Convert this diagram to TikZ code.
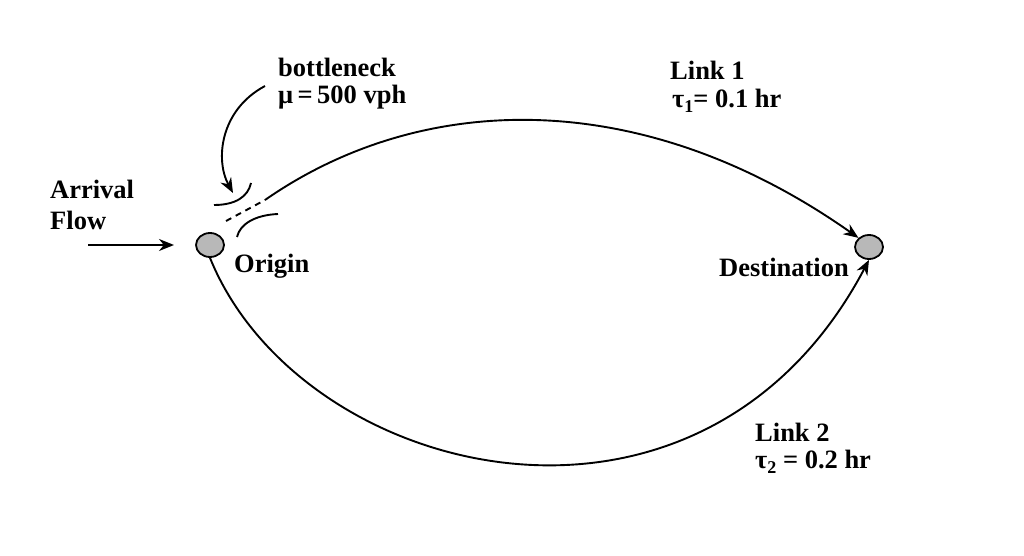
\documentclass[tikz,border=0pt]{standalone}
\usepackage{fontspec}
\setmainfont{Liberation Serif}
\usetikzlibrary{arrows.meta,shapes.geometric}
\newcommand{\mysub}[1]{\raisebox{-5pt}{\fontsize{18}{20}\selectfont #1}}
\begin{document}
\begin{tikzpicture}[x=1pt,y=-1pt,
  lbl/.style={font=\fontsize{26.5}{31}\selectfont\bfseries, inner sep=0pt, align=left},
  nd/.style={ellipse, draw, line width=1.8pt, fill=black!28, minimum width=28pt, minimum height=24pt, inner sep=0pt},
  ln/.style={line width=1.9pt},
  arr/.style={ln,-{Stealth[length=15pt,width=12pt]}}]
\useasboundingbox (0,0) rectangle (1024,556);
\node[nd] (o) at (210,245) {};
\node[nd] (d) at (869,247) {};
\coordinate (s1) at (265,200);
\coordinate (a0) at (88,245);
\coordinate (a1) at (174,245);
\draw[ln,dash pattern=on 6pt off 5pt] (226,221) -- (s1);
\draw[arr] (s1) .. controls (420,92) and (640,84) .. (d.north west);
\draw[arr] (o.south) .. controls (300,480) and (700,580) .. (d.south);
\draw[arr] (a0) -- (a1);
\draw[ln] (214,205) .. controls (235,205) and (248,197) .. (251,183);
\draw[ln] (237,237) .. controls (240,224) and (255,215) .. (278,214);
\draw[arr] (265,86) .. controls (220,110) and (215,160) .. (233,193);
\node[lbl,anchor=west] at (278,67) {bottleneck};
\node[lbl,anchor=west] at (278,97) {μ\,=\,500 vph};
\node[lbl,anchor=west] at (50,205) {Arrival\\Flow};
\node[lbl,anchor=west] at (234,266) {Origin};
\node[lbl,anchor=east] at (849,267) {Destination};
\node[lbl,anchor=west] at (670,70) {Link 1};
\node[lbl,anchor=west] at (672,101) {τ\mysub{1}= 0.1 hr};
\node[lbl,anchor=west] at (755,432) {Link 2};
\node[lbl,anchor=west] at (755,462) {τ\mysub{2} = 0.2 hr};
\end{tikzpicture}
\end{document}
